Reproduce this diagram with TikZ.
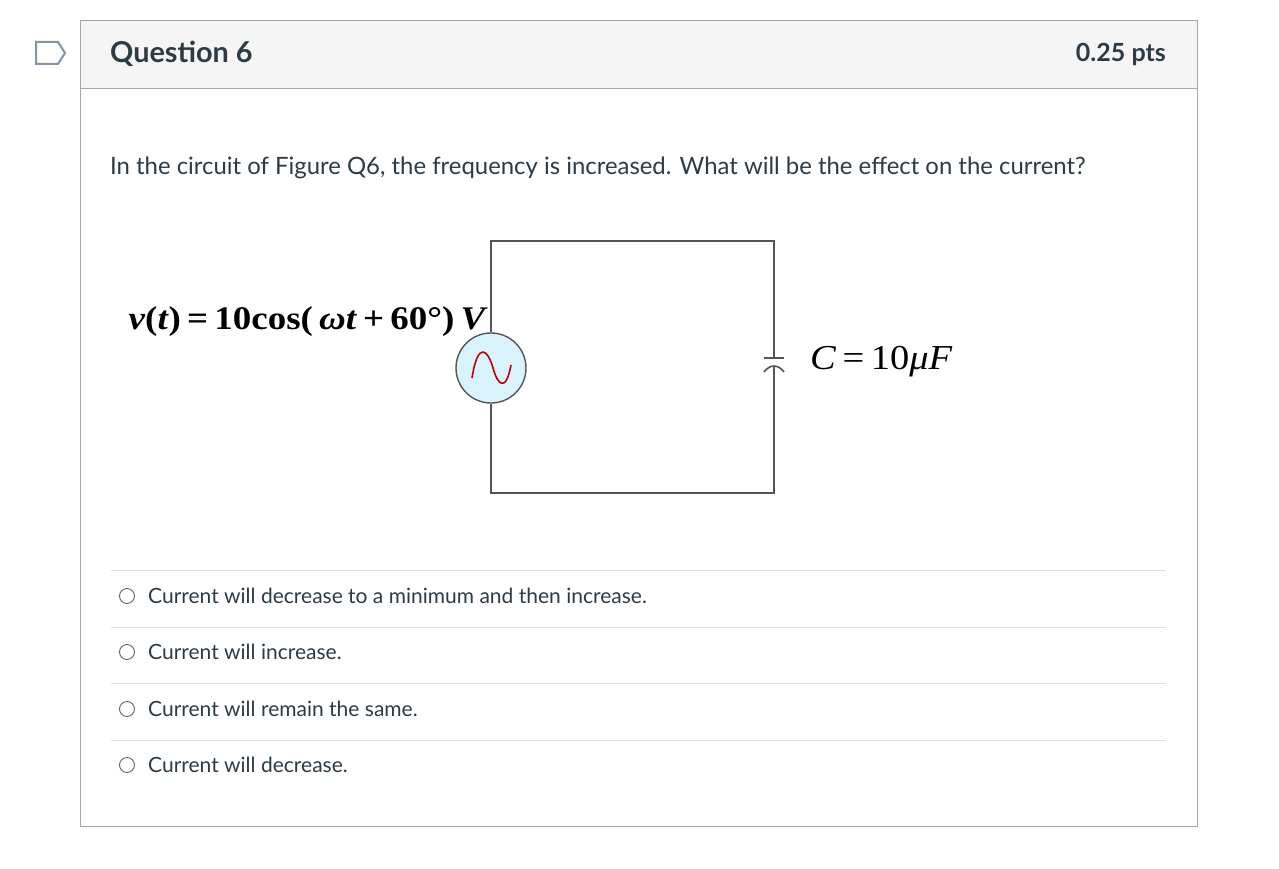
\documentclass[tikz,border=0pt]{standalone}
\usepackage{fontspec}
\setmainfont{Lato}
\newfontfamily\tms{Liberation Serif}
\definecolor{txt}{HTML}{2D3B45}
\definecolor{icon}{HTML}{8094AA}
\definecolor{wire}{HTML}{555555}
\begin{document}
\begin{tikzpicture}[x=1pt,y=-1pt,
  opt/.style={anchor=west,font=\fontsize{21}{24}\selectfont,text=txt,inner sep=0},
  radio/.style={circle,draw=txt!80,line width=0.9pt,minimum size=15,inner sep=0},
  sep/.style={draw=black!12,line width=0.8pt},
  wr/.style={draw=wire,line width=1.6pt}]
\useasboundingbox (0,0) rectangle (1279,869);
\fill[white] (0,0) rectangle (1279,869);
\fill[black!4] (80,21) rectangle (1197,89);
\draw[black!35,line width=1pt] (80,21) rectangle (1197,826);
\draw[black!35,line width=1pt] (80,89) -- (1197,89);
\draw[draw=icon,line width=2pt] (36,42) -- (58,42) -- (65,53) -- (58,64) -- (36,64) -- cycle;
\node[anchor=west,font=\bfseries\fontsize{28.8}{32}\selectfont,text=txt,inner sep=0] (title) at (110,54) {Question 6};
\node[anchor=east,font=\bfseries\fontsize{25}{28}\selectfont,text=txt,inner sep=0] (pts) at (1166,54) {0.25 pts};
\node[anchor=west,font=\fontsize{23.9}{28}\selectfont,text=txt,inner sep=0] (q) at (110,168) {In the circuit of Figure Q6, the frequency is increased. What will be the effect on the current?};
% circuit
\coordinate (tl) at (491,241); \coordinate (tr) at (774,241);
\coordinate (bl) at (491,493); \coordinate (br) at (774,493);
\node[circle,draw=wire,fill=cyan!15,line width=1.4pt,minimum size=70,inner sep=0] (src) at (491,368) {};
\coordinate (c1) at (774,358); \coordinate (c2) at (774,367);
\draw[wr] (src.north) -- (tl) -- (tr) -- (c1);
\draw[wr] (c2) -- (br) -- (bl) -- (src.south);
\draw[wr] (764,358) -- (784,358);
\draw[wr] (764,372) .. controls (770,364) and (778,364) .. (784,372);
\draw[red!75!black,line width=1.6pt] (472,378) .. controls (478,340) and (488,350) .. (493,368) .. controls (498,386) and (506,392) .. (511,365);
\node[anchor=east,xscale=1.12,font=\tms\bfseries\fontsize{33}{36}\selectfont,inner sep=0] (vt) at (488,322) {\textit{v}(\textit{t})\,=\,10cos(\,\textit{ωt}\,+\,60°)\,\textit{V}};
\node[anchor=west,xscale=1.1,font=\tms\fontsize{35}{38}\selectfont,inner sep=0] (cl) at (810,362) {\textit{C}\,=\,10\textit{μF}};
% options
\foreach \y in {570,627,683,740} \draw[sep] (111,\y) -- (1166,\y);
\node[radio] (r1) at (127,596) {}; \node[opt] (o1) at (148,596) {Current will decrease to a minimum and then increase.};
\node[radio] (r2) at (127,652) {}; \node[opt] (o2) at (148,652) {Current will increase.};
\node[radio] (r3) at (127,709) {}; \node[opt] (o3) at (148,709) {Current will remain the same.};
\node[radio] (r4) at (127,765) {}; \node[opt] (o4) at (148,765) {Current will decrease.};
\end{tikzpicture}
\end{document}
